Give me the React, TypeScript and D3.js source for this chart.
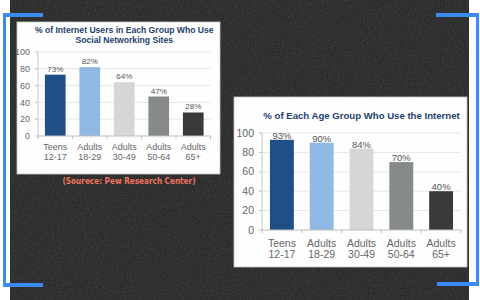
import React from 'react';
import * as d3 from 'd3';

// age groups, two lines each
const groupTop = ['Teens', 'Adults', 'Adults', 'Adults', 'Adults'];
const groupBottom = ['12-17', '18-29', '30-49', '50-64', '65+'];
const barColors = ['#1f4f87', '#8fb9e3', '#d5d7d7', '#868a89', '#393b3a'];

// % of internet users who use social networking sites
const socialValues = [73, 82, 64, 47, 28];
// % of each age group who use the internet
const internetValues = [93, 90, 84, 70, 40];

const yTicks = [0, 20, 40, 60, 80, 100];

const FONT = 'Arial, "Liberation Sans", Helvetica, sans-serif';

type PanelProps = {
  values: number[];
  box: { x: number; y: number; w: number; h: number };
  xRange: [number, number];
  yRange: [number, number];
  title: string[];
  titleY: number[];
  titleSize: number;
  tickSize: number;
  labelGap: number;
  xLabelY: number[];
};

const Panel = ({ values, box, xRange, yRange, title, titleY, titleSize, tickSize, labelGap, xLabelY }: PanelProps) => {
  const x = d3.scaleBand<number>().domain(d3.range(values.length)).range(xRange).paddingInner(0.4).paddingOuter(0.2);
  const y = d3.scaleLinear().domain([0, 100]).range(yRange);
  const cx = (xRange[0] + xRange[1]) / 2;
  const step = x.step();
  const bounds = d3.range(values.length + 1).map(i => xRange[0] + i * step);

  return (
    <g>
      <rect x={box.x} y={box.y} width={box.w} height={box.h} fill="#fefefe" stroke="#c9c9c9" strokeWidth={0.8} />
      {title.map((t, i) => (
        <text key={t} x={cx} y={titleY[i]} textAnchor="middle" fontFamily={FONT} fontWeight="bold" fontSize={titleSize} fill="#23406f">
          {t}
        </text>
      ))}
      {yTicks.map(t => (
        <g key={t}>
          {t > 0 && <line x1={xRange[0]} x2={xRange[1]} y1={y(t)} y2={y(t)} stroke="#e6e6e6" />}
          <line x1={xRange[0] - 3} x2={xRange[0]} y1={y(t)} y2={y(t)} stroke="#bdbdbd" />
          <text x={xRange[0] - 8} y={y(t)} dy="0.35em" textAnchor="end" fontFamily={FONT} fontSize={tickSize} fill="#666">
            {t}
          </text>
        </g>
      ))}
      <line x1={xRange[0]} x2={xRange[0]} y1={y(100)} y2={y(0)} stroke="#c8c8c8" />
      {values.map((v, i) => (
        <g key={i}>
          <rect x={x(i)} y={y(v)} width={x.bandwidth()} height={y(0) - y(v)} fill={barColors[i]} />
          <text x={(x(i) ?? 0) + x.bandwidth() / 2} y={y(v) - labelGap} textAnchor="middle" fontFamily={FONT} fontSize={tickSize - 1} fill="#555">
            {v}%
          </text>
          <text x={(x(i) ?? 0) + x.bandwidth() / 2} y={xLabelY[0]} dy="0.35em" textAnchor="middle" fontFamily={FONT} fontSize={tickSize} fill="#666">
            {groupTop[i]}
          </text>
          <text x={(x(i) ?? 0) + x.bandwidth() / 2} y={xLabelY[1]} dy="0.35em" textAnchor="middle" fontFamily={FONT} fontSize={tickSize} fill="#666">
            {groupBottom[i]}
          </text>
        </g>
      ))}
      <line x1={xRange[0]} x2={xRange[1]} y1={y(0)} y2={y(0)} stroke="#bdbdbd" />
      {bounds.map((b, i) => (
        <line key={i} x1={b} x2={b} y1={y(0)} y2={y(0) + 3} stroke="#bdbdbd" />
      ))}
    </g>
  );
};

export default function App() {
  const blue = '#3a8cf4';
  return (
    <svg width={480} height={300} style={{ position: 'absolute', left: 0, top: 0 }}>
      <defs>
        <filter id="chalk" x="0" y="0" width="100%" height="100%">
          <feTurbulence type="fractalNoise" baseFrequency="0.6" numOctaves={2} seed={4} />
          <feColorMatrix type="matrix" values="0 0 0 0 1  0 0 0 0 1  0 0 0 0 1  0 0 0 0.14 -0.03" />
        </filter>
      </defs>
      <rect width={480} height={300} fill="#ffffff" />
      <rect x={10} y={0} width={459} height={300} fill="#282828" />
      <rect x={10} y={0} width={459} height={300} filter="url(#chalk)" />

      <Panel
        values={socialValues}
        box={{ x: 17, y: 22, w: 203, h: 152 }}
        xRange={[38, 210.5]}
        yRange={[136, 52]}
        title={['% of Internet Users in Each Group Who Use', 'Social Networking Sites']}
        titleY={[33, 43]}
        titleSize={8.6}
        tickSize={9}
        labelGap={3}
        xLabelY={[146.5, 156.5]}
      />
      <Panel
        values={internetValues}
        box={{ x: 234, y: 97, w: 233, h: 170 }}
        xRange={[262, 461]}
        yRange={[230, 133]}
        title={['% of Each Age Group Who Use the Internet']}
        titleY={[119]}
        titleSize={9.6}
        tickSize={10.5}
        labelGap={1}
        xLabelY={[243, 254]}
      />

      <text x={129} y={184} textAnchor="middle" fontFamily='"Comic Sans MS", "DejaVu Sans", sans-serif' fontSize={8.5} fontWeight="bold" fill="#f2735f" textLength={133} lengthAdjust="spacingAndGlyphs">
        (Sourece: Pew Research Center)
      </text>

      <g fill={blue}>
        <rect x={3} y={13} width={40} height={4} />
        <rect x={3} y={13} width={3} height={273} />
        <rect x={3} y={283} width={40} height={4} />
        <rect x={436} y={13} width={43} height={4} />
        <rect x={476} y={13} width={3} height={273} />
        <rect x={437} y={282} width={42} height={4} />
      </g>
    </svg>
  );
}
